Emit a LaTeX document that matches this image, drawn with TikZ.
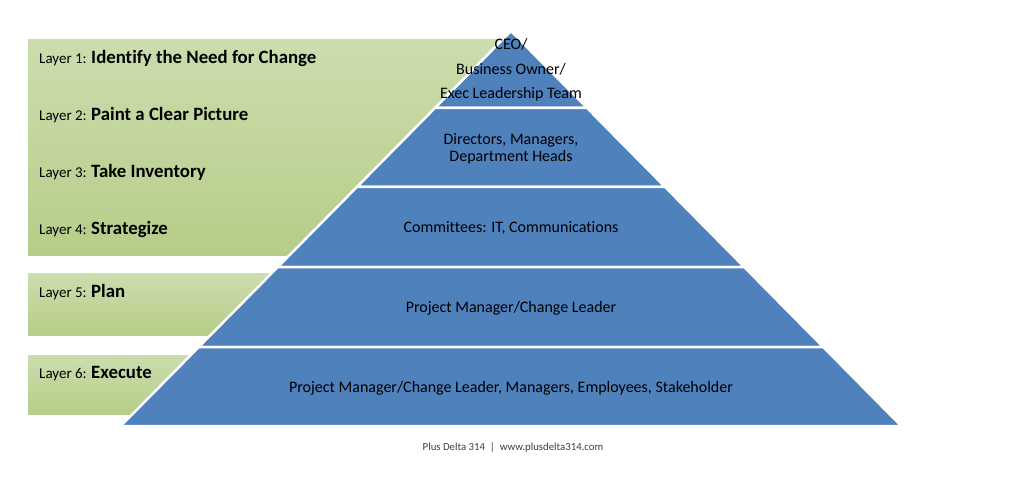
\documentclass[tikz,border=0pt]{standalone}
\usepackage{fontspec}
\setmainfont{Carlito}[Ligatures=NoCommon]
\usepackage{xcolor}
\usepackage{tikz}
\usetikzlibrary{positioning,calc}
\definecolor{tierblue}{RGB}{79,129,189}
\definecolor{layertop}{RGB}{204,221,174}
\definecolor{layerbot}{RGB}{182,205,136}
\definecolor{footgray}{RGB}{64,64,64}

\begin{document}
\begin{tikzpicture}[x=1pt, y=-1pt,
    layerbox/.style={top color=layertop, bottom color=layerbot, draw=none},
    tier/.style={fill=tierblue, draw=white, line width=2.5pt, line join=round},
    tiertext/.style={font=\fontsize{16}{19}\selectfont, anchor=base, inner sep=0pt},
    layerlabel/.style={font=\fontsize{15}{18}\selectfont, anchor=base west, inner sep=0pt}]
    \useasboundingbox[fill=white] (0,0) rectangle (1024,478);

    % Layer boxes behind the pyramid
    \shade[layerbox] (28,40) rectangle (505,255);
    \shade[layerbox] (28,273) rectangle (300,335);
    \shade[layerbox] (28,355) rectangle (300,414);

    % Pyramid tiers
    \foreach \yt/\yb in {31/108, 108/187, 187/267, 267/347, 347/426} {
        \pgfmathsetmacro\wt{0.988*(\yt-31)}
        \pgfmathsetmacro\wb{0.988*(\yb-31)}
        \draw[tier] (511-\wt,\yt) -- (511+\wt,\yt) -- (511+\wb,\yb) -- (511-\wb,\yb) -- cycle;
    }

    % Tier labels
    \node[tiertext] (ceo) at (511,50) {CEO/};
    \node[tiertext] (owner) at (511,74.5) {Business Owner/};
    \node[tiertext] (exec) at (511,99) {Exec Leadership Team};
    \node[tiertext] (directors) at (511,145) {Directors, Managers,};
    \node[tiertext] (heads) at (511,162) {Department Heads};
    \node[tiertext] (committees) at (511,233) {Committees: IT, Communications};
    \node[tiertext] (pm) at (511,312) {Project Manager/Change Leader};
    \node[tiertext] (everyone) at (511,392) {Project Manager/Change Leader, Managers, Employees, Stakeholder};

    % Layer labels
    \node[layerlabel] (layer1) at (39,64) {Layer 1: {\fontsize{18.8}{22}\selectfont\bfseries Identify the Need for Change}};
    \node[layerlabel] (layer2) at (39,121) {Layer 2: {\fontsize{18.8}{22}\selectfont\bfseries Paint a Clear Picture}};
    \node[layerlabel] (layer3) at (39,178) {Layer 3: {\fontsize{18.8}{22}\selectfont\bfseries Take Inventory}};
    \node[layerlabel] (layer4) at (39,235) {Layer 4: {\fontsize{18.8}{22}\selectfont\bfseries Strategize}};
    \node[layerlabel] (layer5) at (39,297) {Layer 5: {\fontsize{18.8}{22}\selectfont\bfseries Plan}};
    \node[layerlabel] (layer6) at (39,378) {Layer 6: {\fontsize{18.8}{22}\selectfont\bfseries Execute}};

    % Footer
    \node[font=\fontsize{10.8}{13}\selectfont, text=footgray, anchor=base, inner sep=0pt] (footer) at (513,450)
        {Plus Delta 314 \ | \ www.plusdelta314.com};
\end{tikzpicture}
\end{document}
